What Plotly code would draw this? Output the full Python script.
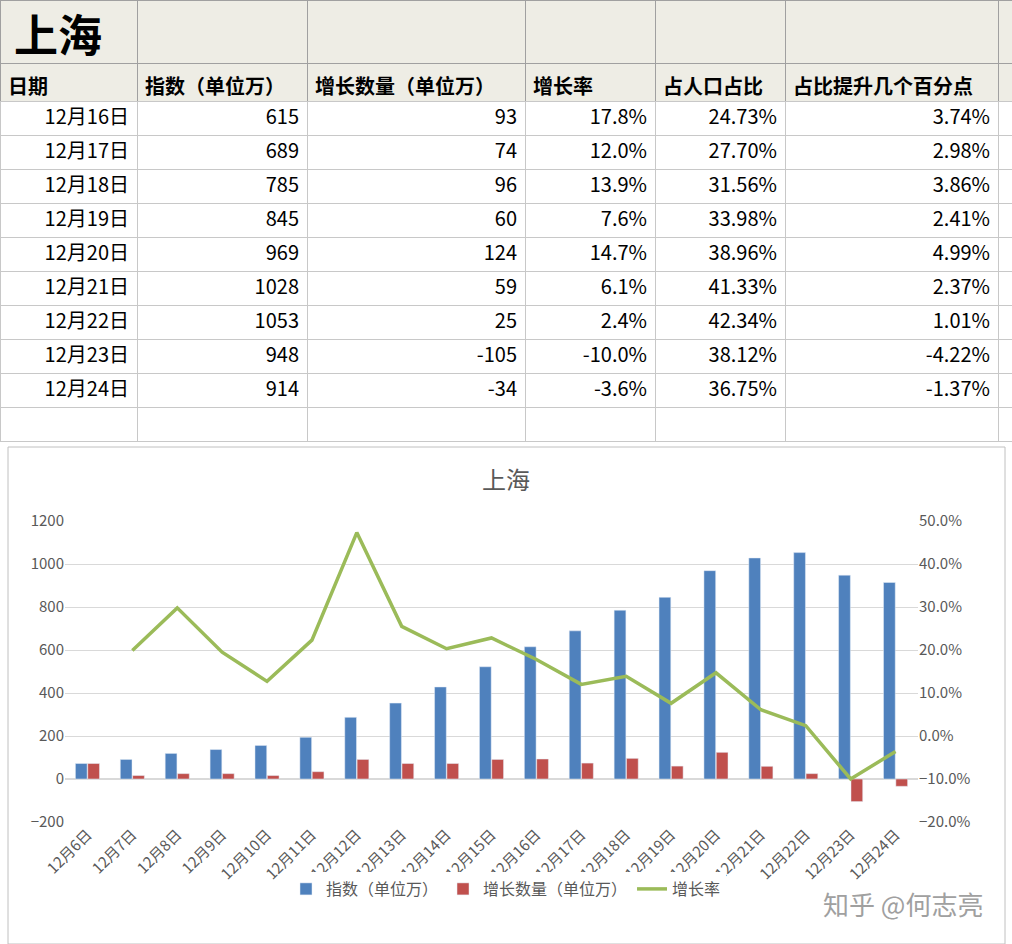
import plotly.graph_objects as go

# chart data, 12月6日 - 12月24日
dates = [f"12月{d}日" for d in range(6, 25)]
index_vals = [72, 91, 119, 137, 156, 194, 287, 353, 428, 522,
              615, 689, 785, 845, 969, 1028, 1053, 948, 914]
growth_vals = [72, 16, 25, 25, 16, 34, 91, 72, 72, 91,
               93, 74, 96, 60, 124, 59, 25, -105, -34]
growth_rate = [None, 19.9, 29.8, 19.5, 12.7, 22.3, 47.3, 25.5, 20.3, 22.8,
               17.8, 12.0, 13.9, 7.6, 14.7, 6.1, 2.4, -10.0, -3.6]

# table data
tbl_dates = ["12月16日", "12月17日", "12月18日", "12月19日", "12月20日",
             "12月21日", "12月22日", "12月23日", "12月24日"]
tbl_index = ["615", "689", "785", "845", "969", "1028", "1053", "948", "914"]
tbl_growth = ["93", "74", "96", "60", "124", "59", "25", "-105", "-34"]
tbl_rate = ["17.8%", "12.0%", "13.9%", "7.6%", "14.7%", "6.1%", "2.4%", "-10.0%", "-3.6%"]
tbl_share = ["24.73%", "27.70%", "31.56%", "33.98%", "38.96%", "41.33%", "42.34%", "38.12%", "36.75%"]
tbl_pts = ["3.74%", "2.98%", "3.86%", "2.41%", "4.99%", "2.37%", "1.01%", "-4.22%", "-1.37%"]
headers = ["日期", "指数（单位万）", "增长数量（单位万）", "增长率", "占人口占比", "占比提升几个百分点"]

W, H = 1012, 944
font = "Noto Sans CJK SC, sans-serif"
colw = [137, 170, 218, 130, 130, 213, 14]
beige = "#eeede5"

fig = go.Figure()

# title row + header row (left aligned, beige)
fig.add_trace(go.Table(
    domain=dict(x=[0, 1], y=[1 - 102 / H, 1]),
    columnwidth=colw,
    header=dict(values=[""] * 7,
                height=63, fill_color=beige, align="left",
                line=dict(color="#a0a0a0", width=1),
                font=dict(family=font, size=20, color="black")),
    cells=dict(values=[["<b>" + h + "</b>"] for h in headers] + [[""]],
               height=37, fill_color=beige, align="left",
               line=dict(color="#a0a0a0", width=1),
               font=dict(family=font, size=20, color="black")),
))

# data rows (right aligned)
cols = [tbl_dates, tbl_index, tbl_growth, tbl_rate, tbl_share, tbl_pts]
fig.add_trace(go.Table(
    domain=dict(x=[0, 1], y=[1 - 445 / H, 1 - 101 / H]),
    columnwidth=colw,
    header=dict(values=[c[0] for c in cols] + [""], height=34,
                fill_color="white", align="right",
                line=dict(color="#c8c8c8", width=1),
                font=dict(family=font, size=20, color="black")),
    cells=dict(values=[c[1:] + [""] for c in cols] + [[""] * 9], height=34,
               fill_color="white", align="right",
               line=dict(color="#c8c8c8", width=1),
               font=dict(family=font, size=20, color="black")),
))

fig.add_trace(go.Bar(x=dates, y=index_vals, name="指数（单位万）",
                     marker_color="#4f81bd", xaxis="x", yaxis="y"))
fig.add_trace(go.Bar(x=dates, y=growth_vals, name="增长数量（单位万）",
                     marker_color="#c0504d", xaxis="x", yaxis="y"))
fig.add_trace(go.Scatter(x=dates, y=growth_rate, name="增长率", mode="lines",
                         line=dict(color="#9bbb59", width=3.5),
                         xaxis="x", yaxis="y2"))

x0, x1 = 65 / W, 918 / W
fig.update_layout(
    width=W, height=H,
    margin=dict(l=0, r=0, t=0, b=0, autoexpand=False),
    paper_bgcolor="white",
    plot_bgcolor="white",
    font=dict(family=font, size=15, color="#595959"),
    barmode="group", bargap=0.45, bargroupgap=0.05,
    xaxis=dict(domain=[x0, x1], anchor="y", tickangle=-45,
               showgrid=False, showline=False, ticks="", zeroline=False,
               tickfont=dict(size=15, color="#595959")),
    yaxis=dict(domain=[1 - 822 / H, 1 - 521 / H], range=[-200, 1200], dtick=200,
               showgrid=True, gridcolor="#d9d9d9", zeroline=True,
               zerolinecolor="#d9d9d9", tickfont=dict(size=15)),
    yaxis2=dict(overlaying="y", side="right", range=[-20, 50], dtick=10,
                ticksuffix="%", tickformat=".1f", showgrid=False, zeroline=False,
                tickfont=dict(size=15)),
    legend=dict(orientation="h", x=0.5, y=1 - 872 / H, xanchor="center", yanchor="top",
                font=dict(size=16, color="#595959")),
    shapes=[dict(type="rect", xref="paper", yref="paper", layer="below",
                 x0=8 / W, x1=1005 / W, y0=0, y1=1 - 447 / H,
                 line=dict(color="#c0c0c0", width=1), fillcolor="white")],
    annotations=[
        dict(text="<b>上海</b>", x=12 / W, y=1 - 33 / H, xref="paper", yref="paper",
             xanchor="left", yanchor="middle", showarrow=False,
             font=dict(size=44, color="black")),
        dict(text="上海", x=0.5, y=1 - 478 / H, xref="paper", yref="paper",
             yanchor="middle", showarrow=False, font=dict(size=24, color="#595959")),
        dict(text="知乎 @何志亮", x=985 / W, y=1 - 903 / H, xref="paper", yref="paper",
             xanchor="right", yanchor="middle", showarrow=False,
             font=dict(size=26, color="#a0a0a0")),
    ],
)

fig.write_html("out.html", config={"displayModeBar": False},
               post_script="document.body.style.margin='0';document.body.style.overflow='hidden';")
